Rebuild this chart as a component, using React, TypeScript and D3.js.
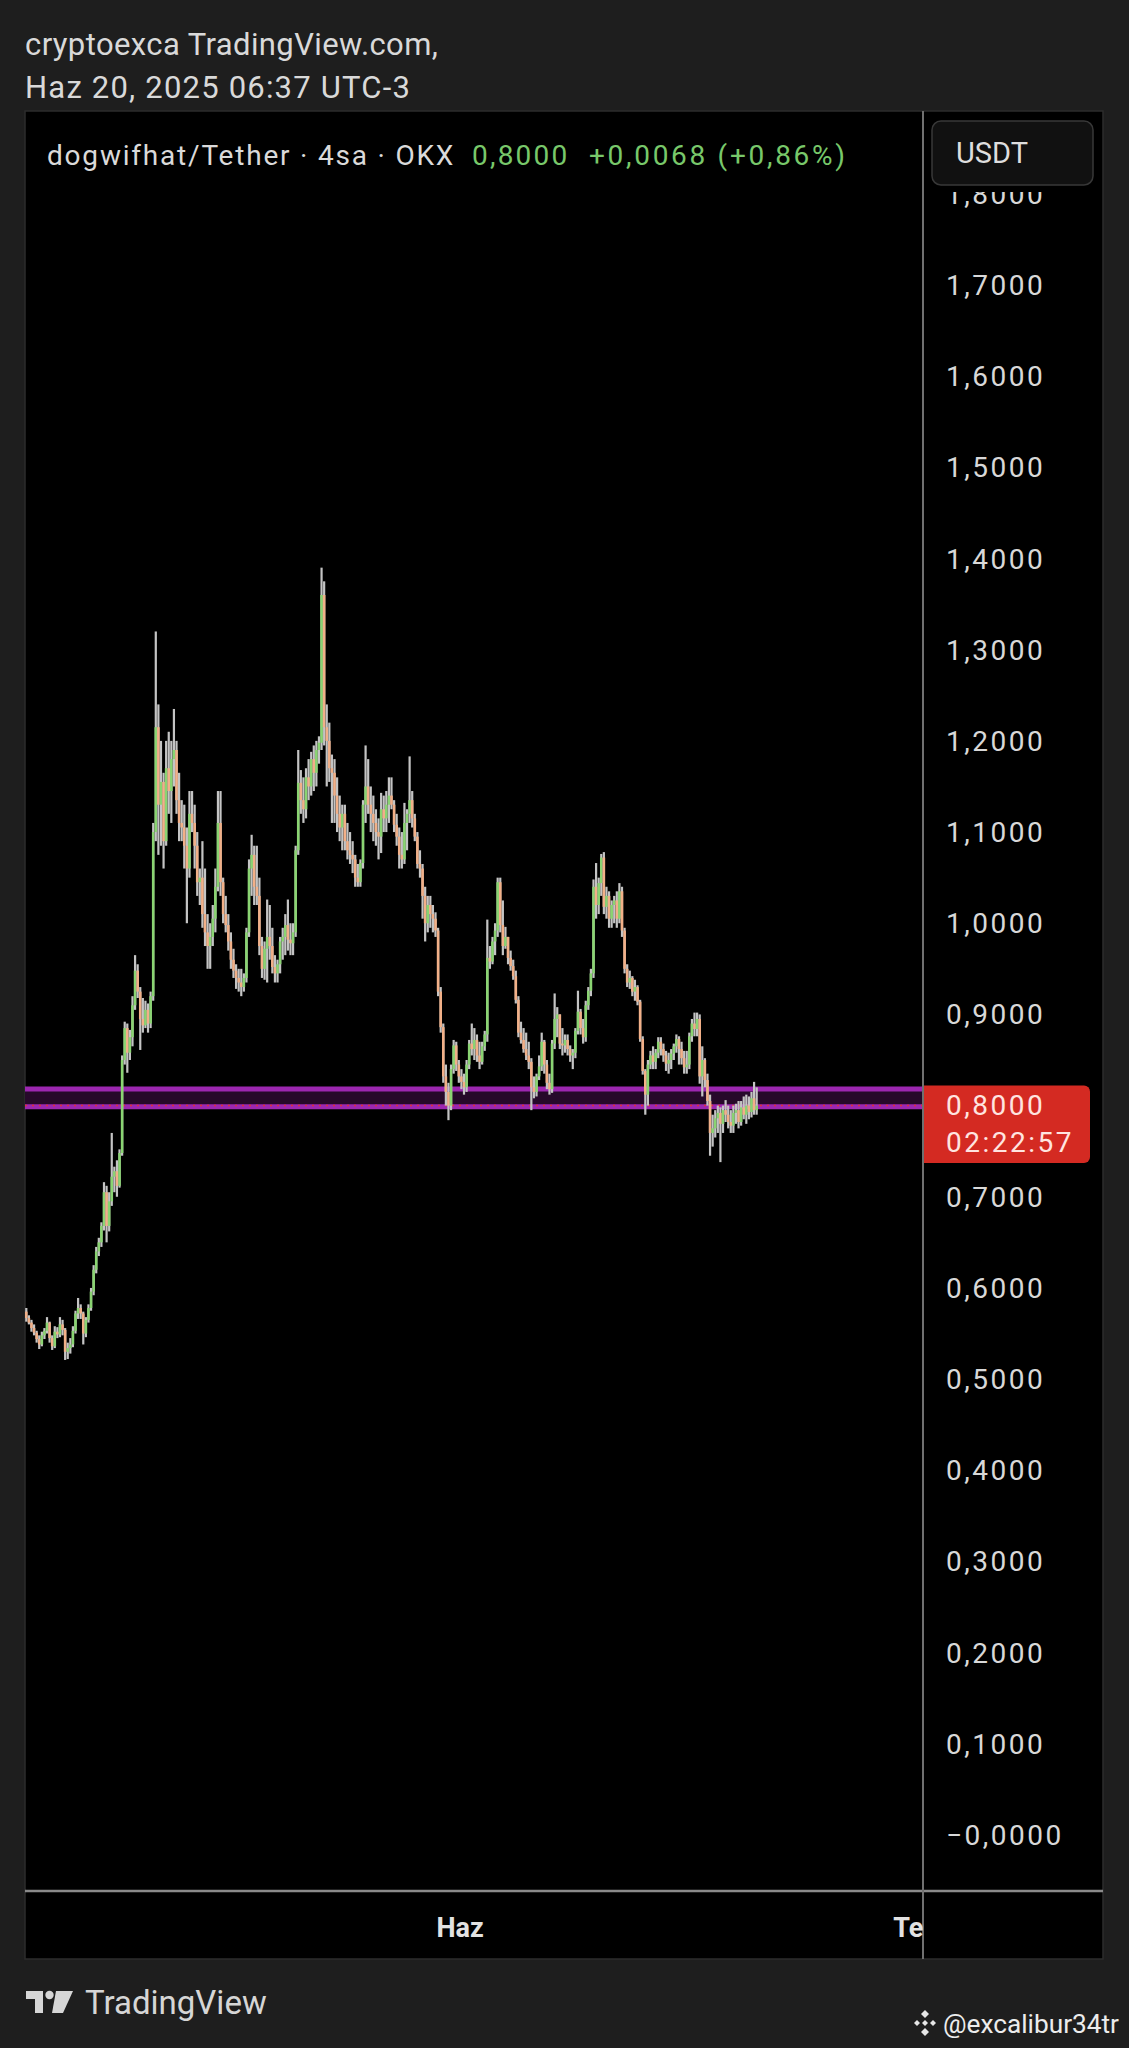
import React from 'react';
import * as d3 from 'd3';

// Price values are stored ×1000 (e.g. 574 = 0,574 USDT). Open of each candle = previous close.
const firstOpen = 574;
const highs = [
  578, 570, 565, 560, 553, 548, 552, 556, 568, 563, 548, 558, 557, 568, 565, 556, 540, 545, 558, 575,
  589, 582, 574, 568, 582, 600, 625, 645, 655, 672, 716, 712, 705, 770, 733, 740, 752, 855, 892, 890,
  883, 920, 965, 955, 930, 918, 915, 912, 925, 1110, 1320, 1240, 1200, 1165, 1200, 1210, 1200, 1235, 1200, 1165,
  1135, 1130, 1105, 1145, 1145, 1130, 1100, 1060, 1090, 1060, 1010, 1000, 1020, 1060, 1145, 1145, 1050, 1030, 1010, 990,
  972, 955, 950, 950, 945, 995, 1070, 1097, 1085, 1085, 1050, 985, 980, 1026, 1020, 995, 965, 960, 985, 995,
  1010, 1026, 1000, 1000, 1085, 1190, 1168, 1160, 1170, 1180, 1188, 1195, 1200, 1205, 1390, 1375, 1240, 1220, 1185, 1180,
  1160, 1140, 1130, 1130, 1110, 1100, 1090, 1075, 1065, 1070, 1135, 1195, 1180, 1150, 1140, 1125, 1115, 1143, 1140, 1145,
  1160, 1160, 1135, 1120, 1105, 1100, 1132, 1125, 1183, 1145, 1120, 1100, 1080, 1065, 1040, 1030, 1030, 1020, 1012, 995,
  930, 890, 845, 825, 845, 872, 870, 850, 840, 835, 850, 872, 890, 885, 878, 870, 870, 882, 1004, 975,
  985, 1000, 1050, 1050, 1025, 996, 985, 970, 960, 948, 920, 892, 885, 880, 870, 852, 832, 835, 855, 880,
  872, 850, 835, 872, 923, 908, 900, 885, 878, 878, 866, 862, 885, 926, 906, 895, 915, 930, 950, 1048,
  1066, 1050, 1076, 1078, 1040, 1035, 1025, 1030, 1035, 1044, 1040, 995, 955, 948, 942, 938, 932, 916, 876, 840,
  850, 860, 865, 862, 875, 875, 868, 860, 858, 862, 868, 878, 876, 870, 860, 860, 880, 895, 902, 902,
  900, 865, 852, 835, 812, 790, 795, 800, 798, 800, 806, 800, 795, 800, 802, 805, 805, 810, 812, 810,
  815, 826, 820,
];
const lows = [
  563, 560, 552, 548, 540, 533, 536, 544, 550, 540, 532, 534, 545, 546, 548, 521, 522, 528, 535, 550,
  566, 566, 538, 546, 562, 575, 592, 616, 635, 645, 663, 650, 662, 690, 705, 700, 710, 745, 845, 836,
  850, 865, 905, 918, 861, 880, 885, 880, 885, 915, 1090, 1075, 1085, 1060, 1085, 1120, 1110, 1150, 1120, 1090,
  1090, 1060, 1000, 1050, 1100, 1060, 1030, 1020, 995, 975, 950, 950, 975, 990, 1035, 1030, 1000, 990, 970, 950,
  940, 928, 925, 920, 925, 935, 985, 1030, 1020, 1020, 965, 940, 938, 935, 960, 945, 935, 935, 945, 960,
  965, 970, 965, 965, 985, 1075, 1120, 1110, 1115, 1135, 1140, 1145, 1150, 1175, 1190, 1195, 1150, 1155, 1110, 1110,
  1100, 1090, 1080, 1080, 1070, 1065, 1055, 1040, 1040, 1040, 1060, 1110, 1120, 1100, 1090, 1085, 1070, 1077, 1100, 1100,
  1110, 1125, 1100, 1085, 1060, 1060, 1065, 1080, 1110, 1105, 1090, 1060, 1050, 1005, 980, 990, 995, 990, 985, 920,
  880, 825, 800, 784, 795, 835, 838, 825, 818, 812, 815, 840, 855, 850, 848, 840, 845, 860, 870, 950,
  955, 965, 985, 990, 965, 972, 955, 948, 938, 912, 875, 868, 858, 850, 840, 795, 808, 810, 828, 838,
  835, 818, 812, 814, 862, 875, 862, 855, 858, 855, 848, 840, 852, 878, 878, 868, 870, 905, 920, 940,
  1005, 1010, 1030, 1010, 1005, 995, 995, 1000, 995, 1000, 985, 945, 930, 928, 920, 915, 910, 870, 834, 790,
  800, 840, 840, 840, 852, 855, 848, 838, 835, 840, 850, 858, 845, 845, 835, 835, 840, 870, 876, 876,
  824, 810, 820, 800, 745, 755, 765, 770, 738, 770, 782, 775, 770, 770, 780, 775, 778, 785, 780, 785,
  787, 790, 790,
];
const closes = [
  567, 562, 556, 551, 544, 538, 548, 553, 562, 545, 536, 552, 549, 560, 554, 530, 534, 538, 553, 572,
  578, 572, 550, 565, 578, 596, 620, 640, 650, 668, 705, 668, 695, 722, 728, 712, 748, 850, 885, 858,
  875, 910, 948, 925, 895, 888, 905, 890, 920, 1100, 1215, 1130, 1155, 1090, 1170, 1145, 1180, 1190, 1135, 1110,
  1105, 1085, 1060, 1120, 1110, 1085, 1045, 1050, 1010, 990, 975, 985, 1005, 1040, 1110, 1045, 1010, 998, 980, 960,
  948, 940, 935, 930, 940, 990, 1060, 1075, 1040, 1030, 975, 950, 972, 985, 975, 952, 945, 955, 980, 985,
  998, 982, 978, 990, 1080, 1154, 1135, 1125, 1160, 1150, 1180, 1165, 1190, 1198, 1360, 1215, 1200, 1170, 1165, 1140,
  1120, 1105, 1120, 1090, 1080, 1075, 1070, 1050, 1045, 1066, 1130, 1150, 1130, 1120, 1110, 1100, 1095, 1125, 1115, 1130,
  1140, 1130, 1108, 1095, 1075, 1070, 1110, 1120, 1135, 1115, 1095, 1065, 1060, 1030, 1000, 1020, 1010, 1005, 992, 925,
  886, 832, 815, 800, 840, 866, 845, 832, 826, 820, 845, 868, 862, 872, 855, 848, 865, 878, 962, 958,
  980, 992, 1045, 998, 975, 985, 962, 953, 942, 916, 880, 872, 862, 855, 848, 820, 815, 832, 843, 870,
  845, 825, 818, 868, 895, 900, 868, 866, 872, 862, 855, 858, 882, 903, 885, 875, 910, 926, 945, 1040,
  1020, 1044, 1072, 1018, 1030, 1005, 1020, 1025, 1005, 1035, 992, 950, 935, 940, 925, 930, 914, 873, 838, 812,
  845, 855, 848, 858, 870, 862, 855, 846, 850, 857, 865, 873, 862, 852, 842, 845, 876, 890, 884, 895,
  832, 850, 828, 805, 770, 775, 786, 792, 780, 795, 790, 782, 778, 792, 795, 782, 798, 790, 800, 793,
  808, 795, 800,
];

const priceTicks = [1.8, 1.7, 1.6, 1.5, 1.4, 1.3, 1.2, 1.1, 1.0, 0.9, 0.8, 0.7, 0.6, 0.5, 0.4, 0.3, 0.2, 0.1, 0];
const timeLabels = ['Haz', 'Temmuz'];
const timeLabelIndex = [168, 348];
const zoneTop = 0.8183;
const zoneBottom = 0.7986;
const lastPrice = 0.8;
const countdown = '02:22:57';
const headerLines = ['cryptoexca TradingView.com,', 'Haz 20, 2025 06:37 UTC-3'];
const legendTitle = 'dogwifhat/Tether · 4sa · OKX';
const legendPrice = '0,8000';
const legendChange = '+0,0068 (+0,86%)';
const watermark = '@excalibur34tr';

const FONT = "Roboto, 'Noto Sans', sans-serif";
const fmt = (v: number) => (v === 0 ? '\u22120,0000' : d3.format('.4f')(v).replace('.', ','));

export default function App() {
  const paneL = 25, paneR = 923, paneT = 111, paneB = 1891, outerR = 1103, outerB = 1959;
  const step = 2.59;
  const x = d3.scaleLinear().domain([0, closes.length]).range([paneL, paneL + closes.length * step]);
  const y = d3.scaleLinear().domain([0, 1.7]).range([1835, 285]);

  const candles = closes.map((c, i) => {
    const o = (i === 0 ? firstOpen : closes[i - 1]) / 1000;
    const cl = c / 1000;
    const hi = Math.max(highs[i] / 1000, o, cl);
    const lo = Math.min(lows[i] / 1000, o, cl);
    return { i, o, c: cl, h: hi, l: lo };
  });

  return (
    <div style={{ position: 'absolute', left: 0, top: 0, width: 1129, height: 2048 }}>
      <svg width={1129} height={2048} style={{ display: 'block' }} fontFamily={FONT}>
        <defs>
          <clipPath id="pane">
            <rect x={paneL} y={paneT} width={paneR - paneL} height={paneB - paneT} />
          </clipPath>
          <clipPath id="timeclip">
            <rect x={paneL} y={paneB} width={paneR - paneL} height={outerB - paneB} />
          </clipPath>
        </defs>
        <rect x={0} y={0} width={1129} height={2048} fill="#1e1e1e" />
        <text x={25} y={55} fontSize={31} letterSpacing={0.4} fill="#d9d9d9">{headerLines[0]}</text>
        <text x={25} y={98} fontSize={31} letterSpacing={1.2} fill="#d9d9d9">{headerLines[1]}</text>

        <rect x={paneL} y={paneT} width={outerR - paneL} height={outerB - paneT} fill="#000" stroke="#2c2c2c" strokeWidth={1.5} />

        <g clipPath="url(#pane)">
          <rect x={paneL} y={y(zoneTop)} width={paneR - paneL} height={y(zoneBottom) - y(zoneTop)} fill="#26092a" />
          <line x1={paneL} x2={paneR} y1={y(zoneTop)} y2={y(zoneTop)} stroke="#9c27b0" strokeWidth={5} />
          <line x1={paneL} x2={paneR} y1={y(zoneBottom)} y2={y(zoneBottom)} stroke="#9c27b0" strokeWidth={5} />
          <line x1={paneL} x2={paneR} y1={y(lastPrice)} y2={y(lastPrice)} stroke="#e0303a" strokeWidth={1.5} strokeDasharray="2 5" />
          {candles.map((d) => {
            const cx = x(d.i + 0.5);
            const up = d.c >= d.o;
            const top = y(Math.max(d.o, d.c));
            const bh = Math.max(1.2, y(Math.min(d.o, d.c)) - top);
            return (
              <g key={d.i}>
                <rect x={cx - 1.1} y={y(d.h)} width={2.2} height={y(d.l) - y(d.h)} fill="#c4c4c4" />
                <rect x={cx - 1.3} y={top} width={2.6} height={bh} fill={up ? '#8ad472' : '#f2b088'} />
              </g>
            );
          })}
        </g>

        <text x={47} y={165} fontSize={28} letterSpacing={1.8} fill="#dadada">{legendTitle}</text>
        <text x={472} y={165} fontSize={28} letterSpacing={2.2} fill="#78c86a">{legendPrice}</text>
        <text x={589} y={165} fontSize={28} letterSpacing={2.7} fill="#78c86a">{legendChange}</text>

        {priceTicks.map((v) => (
          <text key={v} x={946} y={y(v) + 10} fontSize={28} letterSpacing={2.5} fill="#d8d8d8">{fmt(v)}</text>
        ))}

        <rect x={paneR + 1} y={paneT + 1} width={outerR - paneR - 2} height={80} fill="#000" />
        <rect x={932} y={121} width={161} height={64} rx={9} fill="#111" stroke="#383838" strokeWidth={1.5} />
        <text x={956} y={163} fontSize={29} fill="#dedede">USDT</text>

        <path d={`M${paneR} ${y(lastPrice) - 20} H1084 a6 6 0 0 1 6 6 V1157 a6 6 0 0 1 -6 6 H${paneR} Z`} fill="#d42a22" />
        <text x={946} y={1115} fontSize={28} letterSpacing={2.5} fill="#ffe4e0">{fmt(lastPrice)}</text>
        <text x={946} y={1152} fontSize={28} letterSpacing={2.5} fill="#ffe4e0">{countdown}</text>

        <line x1={paneL} x2={outerR} y1={paneB} y2={paneB} stroke="#8a8a8a" strokeWidth={2.5} />
        <line x1={paneR} x2={paneR} y1={paneT} y2={outerB} stroke="#707070" strokeWidth={2} />

        <g clipPath="url(#timeclip)">
          <text x={x(timeLabelIndex[0])} y={1937} fontSize={27} fontWeight="bold" textAnchor="middle" fill="#e2e2e2">{timeLabels[0]}</text>
          <text x={x(timeLabelIndex[1]) - 33} y={1937} fontSize={27} fontWeight="bold" fill="#e2e2e2">{timeLabels[1]}</text>
        </g>

        <g fill="#d6d6d6">
          <rect x={26} y={1991} width={17} height={8} />
          <rect x={35} y={1991} width={8} height={22} />
          <circle cx={49.5} cy={1995} r={4.2} />
          <path d="M56 1991 H73 L63 2013 H52 Z" />
        </g>
        <text x={85} y={2014} fontSize={33} fill="#d6d6d6">TradingView</text>

        <g fill="#e6e6e6" transform="translate(925 2023)">
          <path d="M0 -13 L4 -9 L0 -5 L-4 -9 Z" />
          <path d="M0 13 L4 9 L0 5 L-4 9 Z" />
          <path d="M-11 0 L-8 -3 L-5 0 L-8 3 Z" />
          <path d="M11 0 L8 -3 L5 0 L8 3 Z" />
          <path d="M0 -3 L3 0 L0 3 L-3 0 Z" />
        </g>
        <text x={943} y={2033} fontSize={25} textLength={176} lengthAdjust="spacingAndGlyphs" fill="#ececec">{watermark}</text>
      </svg>
    </div>
  );
}
